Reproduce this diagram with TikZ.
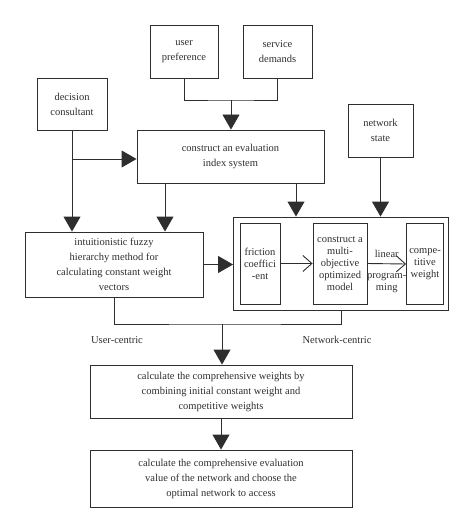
\documentclass[tikz,border=0pt]{standalone}
\usepackage{fontspec}
\setmainfont{Liberation Serif}
\usepackage{tikz}
\usetikzlibrary{arrows.meta,shapes,positioning}

\begin{document}
\begin{tikzpicture}[x=1pt,y=-1pt, color=black!82, line width=0.9pt,
	box/.style={draw, rectangle, align=center, inner sep=1pt, font=\fontsize{10.5}{15}\selectfont},
	inbox/.style={box, font=\fontsize{10.5}{12}\selectfont},
	arr/.style={-{Triangle[length=15pt,width=17pt]}},
	openarr/.style={-{Straight Barb[length=9pt,width=16pt,line width=0.9pt]}}]
	\useasboundingbox (0,0) rectangle (474,532);
	
	\node[box, minimum width=68pt, minimum height=53pt] (userpref) at (184,51.5) {user\\preference};
	\node[box, minimum width=69pt, minimum height=53pt] (servdem) at (277.5,51.5) {service\\demands};
	\node[box, minimum width=70pt, minimum height=52pt] (decision) at (72,104) {decision\\consultant};
	\node[box, minimum width=187pt, minimum height=53pt] (evalindex) at (230.5,156.5) {construct an evaluation\\index system};
	\node[box, minimum width=65pt, minimum height=53pt] (netstate) at (380.5,130.5) {network\\state};
	\node[box, minimum width=178pt, minimum height=65pt] (fuzzy) at (114,264.5) {intuitionistic fuzzy\\hierarchy method for\\calculating constant weight\\vectors};
	
	\node[box, minimum width=215pt, minimum height=93pt] (netbox) at (341,263.5) {};
	\node[inbox, minimum width=40pt, minimum height=81pt] (friction) at (260,263.5) {friction\\coeffici\\-ent};
	\node[inbox, minimum width=54pt, minimum height=81pt] (multi) at (340,263.5) {construct a\\multi-\\objective\\optimized\\model};
	\node[inbox, minimum width=37pt, minimum height=81pt] (compe) at (425,264) {compe-\\titive\\weight};
	
	\node[box, minimum width=262pt, minimum height=53pt] (combine) at (221,391.5) {calculate the comprehensive weights by\\combining initial constant weight and\\competitive weights};
	\node[box, minimum width=262pt, minimum height=57pt] (final) at (221,478.5) {calculate the comprehensive evaluation\\value of the network and choose the\\optimal network to access};
	
	% inputs of the index system
	\coordinate (merge) at (231,100);
	\coordinate (split) at (72,159);
	\draw (userpref.south) |- (merge) -| (servdem.south);
	\draw[arr] (merge) -- (merge |- evalindex.north);
	\draw[arr] (decision.south) -- (decision.south |- fuzzy.north);
	\draw[arr] (split) -- (split -| evalindex.west);
	\draw[arr] ([xshift=-65.5pt]evalindex.south) -- ([xshift=-65.5pt]evalindex.south |- fuzzy.north);
	\draw[arr] ([xshift=65.5pt]evalindex.south) -- ([xshift=65.5pt]evalindex.south |- netbox.north);
	\draw[arr] (netstate.south) -- (netstate.south |- netbox.north);
	\draw[arr] (fuzzy.east) -- (fuzzy.east -| netbox.west);
	
	\draw[openarr] (friction.east) -- (multi.west);
	\draw[openarr] (multi.east) -- (compe.west)
		node[midway, above=2pt, font=\fontsize{10.5}{12}\selectfont] {linear}
		node[midway, below=6pt, align=center, font=\fontsize{10.5}{12}\selectfont] {program-\\ming};
	
	% both sides join
	\coordinate (join) at (222,324);
	\draw (fuzzy.south) |- (join) -| (netbox.south);
	\draw[arr] (join) -- (join |- combine.north);
	\node[font=\fontsize{10.5}{15}\selectfont] (usercen) at (117,340) {User-centric};
	\node[font=\fontsize{10.5}{15}\selectfont] (netcen) at (337,340) {Network-centric};
	
	\draw[arr] (combine) -- (final);
\end{tikzpicture}
\end{document}
